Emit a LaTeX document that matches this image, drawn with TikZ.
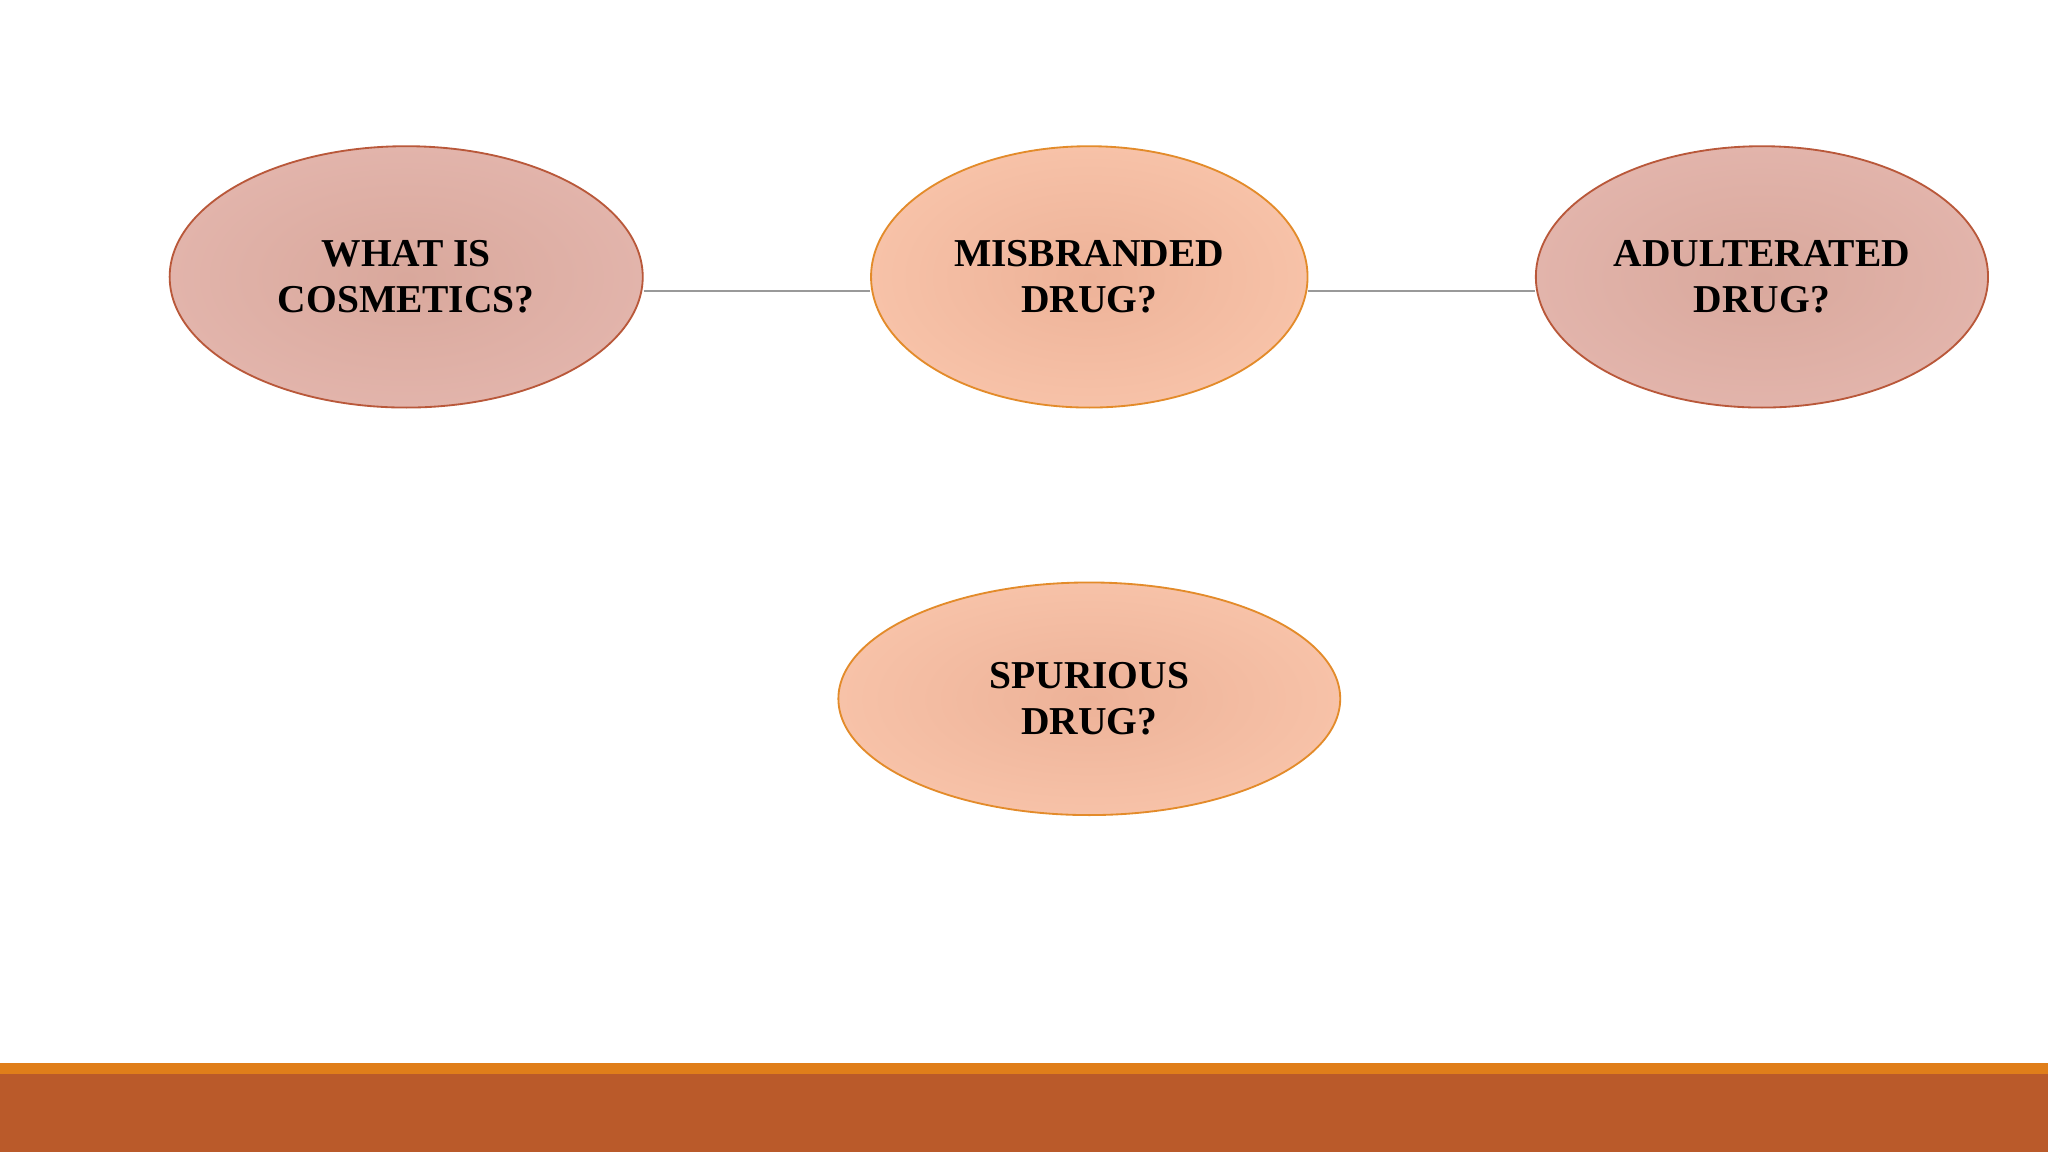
\documentclass[tikz,border=0pt]{standalone}
\usepackage{fontspec}
\setmainfont{Liberation Serif}
\usetikzlibrary{shapes.geometric}
\definecolor{rosefill}{HTML}{E2B4AB}
\definecolor{rosein}{HTML}{D9A89C}
\definecolor{roseline}{HTML}{B9583A}
\definecolor{peachfill}{HTML}{F7C2A8}
\definecolor{peachin}{HTML}{EDB298}
\definecolor{peachline}{HTML}{E38B2A}
\definecolor{barorange}{HTML}{E07E1A}
\definecolor{barrust}{HTML}{BA5A2A}
\tikzset{
  oval/.style={ellipse, inner sep=0pt, font=\bfseries\fontsize{8.6}{10}\selectfont, align=center, line width=0.4pt},
  rose/.style={oval, draw=roseline, inner color=rosein, outer color=rosefill},
  peach/.style={oval, draw=peachline, inner color=peachin, outer color=peachfill},
  link/.style={draw=gray!80, line width=0.4pt}
}
\begin{document}
\begin{tikzpicture}[x=0.01cm,y=-0.01cm]
\useasboundingbox (0,0) rectangle (1568,882);
\fill[white] (0,0) rectangle (1568,882);
\fill[barorange] (0,814) rectangle (1568,823);
\fill[barrust] (0,822) rectangle (1568,882);
\node[rose, minimum width=3.62cm, minimum height=2.0cm] (cos) at (311,212) {WHAT IS\\COSMETICS?};
\node[peach, minimum width=3.34cm, minimum height=2.0cm] (mis) at (834,212) {MISBRANDED\\DRUG?};
\node[rose, minimum width=3.46cm, minimum height=2.0cm] (adu) at (1349,212) {ADULTERATED\\DRUG?};
\node[peach, minimum width=3.84cm, minimum height=1.78cm] (spu) at (834,535) {SPURIOUS\\DRUG?};
\coordinate (c1) at (491,223);
\draw[link] (cos.east |- c1) -- (mis.west |- c1);
\draw[link] (mis.east |- c1) -- (adu.west |- c1);
\end{tikzpicture}
\end{document}
